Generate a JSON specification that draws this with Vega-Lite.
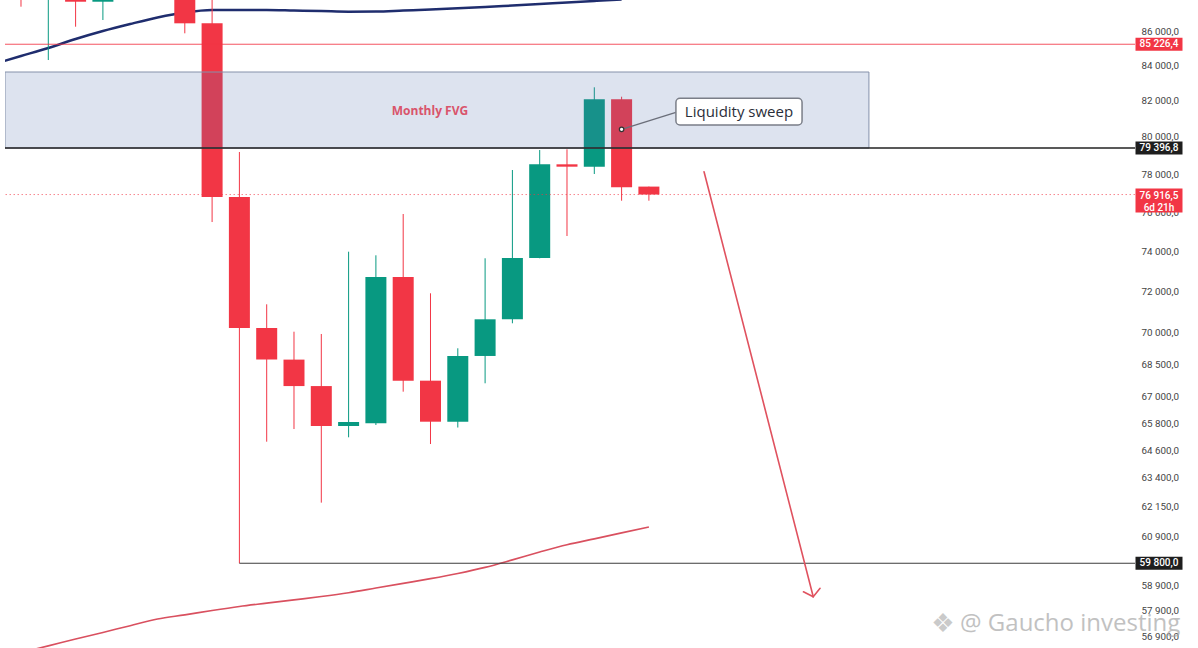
{
  "$schema": "https://vega.github.io/schema/vega-lite/v6.json",
  "width": 1130,
  "height": 648,
  "autosize": {"type": "none"},
  "padding": {"left": 5, "top": 0, "right": 63, "bottom": 0},
  "background": "white",
  "config": {"view": {"stroke": null}, "font": "Roboto"},
  "datasets": {
    "candles": [
      {"i": 0, "open": 88500, "close": 88000, "high": 89000, "low": 87439, "dir": "down"},
      {"i": 1, "open": 88000, "close": 88800, "high": 89500, "low": 84314, "dir": "up"},
      {"i": 2, "open": 88300, "close": 87737, "high": 88800, "low": 86253, "dir": "down"},
      {"i": 3, "open": 87737, "close": 88400, "high": 88900, "low": 86648, "dir": "up"},
      {"i": 6, "open": 88200, "close": 86453, "high": 88700, "low": 85865, "dir": "down"},
      {"i": 7, "open": 86453, "close": 76788, "high": 88500, "low": 75487, "dir": "down"},
      {"i": 8, "open": 76788, "close": 70220, "high": 79183, "low": 59800, "dir": "down"},
      {"i": 9, "open": 70220, "close": 68720, "high": 71364, "low": 64975, "dir": "down"},
      {"i": 10, "open": 68720, "close": 67490, "high": 70042, "low": 65540, "dir": "down"},
      {"i": 11, "open": 67490, "close": 65675, "high": 69932, "low": 62327, "dir": "down"},
      {"i": 12, "open": 65675, "close": 65854, "high": 73973, "low": 65170, "dir": "up"},
      {"i": 13, "open": 65800, "close": 72706, "high": 73791, "low": 65720, "dir": "up"},
      {"i": 14, "open": 72706, "close": 67739, "high": 75901, "low": 67232, "dir": "down"},
      {"i": 15, "open": 67739, "close": 65868, "high": 71902, "low": 64872, "dir": "down"},
      {"i": 16, "open": 65868, "close": 68891, "high": 69253, "low": 65607, "dir": "up"},
      {"i": 17, "open": 68891, "close": 70637, "high": 73641, "low": 67618, "dir": "up"},
      {"i": 18, "open": 70637, "close": 73656, "high": 78215, "low": 70445, "dir": "up"},
      {"i": 19, "open": 73656, "close": 78520, "high": 79290, "low": 73641, "dir": "up"},
      {"i": 20, "open": 78520, "close": 78393, "high": 79328, "low": 74770, "dir": "down"},
      {"i": 21, "open": 78393, "close": 82083, "high": 82758, "low": 78002, "dir": "up"},
      {"i": 22, "open": 82083, "close": 77298, "high": 82228, "low": 76593, "dir": "down"},
      {"i": 23, "open": 77335, "close": 76916.5, "high": 77335, "low": 76593, "dir": "down"}
    ],
    "maBlue": [
      {"i": -1, "v": 84085}, {"i": 0, "v": 84545}, {"i": 1, "v": 85008}, {"i": 2, "v": 85531},
      {"i": 3, "v": 86000}, {"i": 4, "v": 86412}, {"i": 5, "v": 86796}, {"i": 6, "v": 87093},
      {"i": 7, "v": 87242}, {"i": 8, "v": 87242}, {"i": 9, "v": 87242}, {"i": 10, "v": 87212},
      {"i": 11, "v": 87182}, {"i": 12, "v": 87140}, {"i": 13, "v": 87152}, {"i": 14, "v": 87212},
      {"i": 15, "v": 87271}, {"i": 16, "v": 87342}, {"i": 17, "v": 87420}, {"i": 18, "v": 87510},
      {"i": 19, "v": 87600}, {"i": 20, "v": 87690}, {"i": 21, "v": 87780}, {"i": 22, "v": 87870}
    ],
    "maRed": [
      {"i": 0, "v": 56264}, {"i": 1, "v": 56522}, {"i": 2, "v": 56785}, {"i": 3, "v": 57042},
      {"i": 4, "v": 57307}, {"i": 5, "v": 57566}, {"i": 6, "v": 57731}, {"i": 7, "v": 57905},
      {"i": 8, "v": 58064}, {"i": 9, "v": 58194}, {"i": 10, "v": 58325}, {"i": 11, "v": 58457},
      {"i": 12, "v": 58609}, {"i": 13, "v": 58797}, {"i": 14, "v": 58986}, {"i": 15, "v": 59176},
      {"i": 16, "v": 59386}, {"i": 17, "v": 59633}, {"i": 18, "v": 59939}, {"i": 19, "v": 60260},
      {"i": 20, "v": 60561}, {"i": 21, "v": 60806}, {"i": 22, "v": 61055}, {"i": 23, "v": 61302}
    ]
  },
  "layer": [
    {
      "data": {"name": "maBlue"},
      "mark": {"type": "line", "color": "#1f2d6e", "strokeWidth": 2.5, "clip": true, "interpolate": "monotone"},
      "encoding": {
        "x": {"field": "i", "type": "quantitative", "scale": {"domain": [-0.586, 40.806], "nice": false, "zero": false, "padding": 0}, "axis": null},
        "y": {"field": "v", "type": "quantitative", "title": null,
          "scale": {"type": "log", "domain": [56440, 87840], "nice": false, "zero": false, "padding": 0},
          "axis": {
            "orient": "right", "domain": false, "ticks": false, "grid": false, "title": null,
            "values": [86000, 84000, 82000, 80000, 78000, 76000, 74000, 72000, 70000, 68500, 67000, 65800, 64600, 63400, 62150, 60900, 59800, 58900, 57900, 56900],
            "labelExpr": "replace(replace(format(datum.value, ',.1f'), ',', ' '), '.', ',')",
            "labelFont": "Roboto", "labelFontSize": 9.8, "labelColor": "#444444", "labelPadding": 6,
            "labelOverlap": false, "labelBound": false, "labelFlush": false
          }
        }
      }
    },
    {
      "data": {"name": "maRed"},
      "mark": {"type": "line", "color": "#d9505f", "strokeWidth": 1.6, "clip": true, "interpolate": "monotone"},
      "encoding": {
        "x": {"field": "i", "type": "quantitative"},
        "y": {"field": "v", "type": "quantitative", "title": null}
      }
    },
    {
      "data": {"name": "candles"},
      "mark": {"type": "rule", "strokeWidth": 1, "clip": true},
      "encoding": {
        "x": {"field": "i", "type": "quantitative"},
        "y": {"field": "low", "type": "quantitative", "title": null},
        "y2": {"field": "high"},
        "color": {"field": "dir", "type": "nominal", "scale": {"domain": ["up", "down"], "range": ["#089981", "#f23645"]}, "legend": null}
      }
    },
    {
      "data": {"name": "candles"},
      "mark": {"type": "bar", "size": 21, "clip": true},
      "encoding": {
        "x": {"field": "i", "type": "quantitative"},
        "y": {"field": "open", "type": "quantitative", "title": null},
        "y2": {"field": "close"},
        "color": {"field": "dir", "type": "nominal", "legend": null}
      }
    },
    {
      "data": {"values": [{"price": 85226.4}]},
      "mark": {"type": "rule", "color": "#f23645", "strokeWidth": 1, "opacity": 0.85},
      "encoding": {"y": {"field": "price", "type": "quantitative", "title": null}}
    },
    {
      "data": {"values": [{"price": 76916.5}]},
      "mark": {"type": "rule", "color": "#f23645", "strokeWidth": 1, "strokeDash": [1.5, 2.5], "opacity": 0.6},
      "encoding": {"y": {"field": "price", "type": "quantitative", "title": null}}
    },
    {
      "data": {"values": [{"from": 8, "to": 40.806, "price": 59800}]},
      "mark": {"type": "rule", "color": "#3c3c3c", "strokeWidth": 1.1},
      "encoding": {
        "x": {"field": "from", "type": "quantitative"},
        "x2": {"field": "to"},
        "y": {"field": "price", "type": "quantitative", "title": null}
      }
    },
    {
      "data": {"values": [{"left": -0.586, "right": 31.06, "top": 83627, "bottom": 79396.8}]},
      "mark": {"type": "rect", "fill": "#5573af", "fillOpacity": 0.2, "stroke": "#8591aa", "strokeWidth": 1, "clip": true},
      "encoding": {
        "x": {"field": "left", "type": "quantitative"},
        "x2": {"field": "right"},
        "y": {"field": "top", "type": "quantitative", "title": null},
        "y2": {"field": "bottom"}
      }
    },
    {
      "data": {"values": [{"price": 79396.8}]},
      "mark": {"type": "rule", "color": "#222222", "strokeWidth": 1.6},
      "encoding": {"y": {"field": "price", "type": "quantitative", "title": null}}
    },
    {
      "data": {"values": [{"px": 14.98, "py": 81430, "label": "Monthly FVG"}]},
      "mark": {"type": "text", "color": "#d9546b", "fontSize": 12, "fontWeight": "bold", "font": "Open Sans", "align": "center", "baseline": "middle"},
      "encoding": {
        "x": {"field": "px", "type": "quantitative"},
        "y": {"field": "py", "type": "quantitative", "title": null},
        "text": {"field": "label"}
      }
    },
    {
      "data": {"values": [{"ax": 22.0, "ay": 80418, "bx": 23.99, "by": 81357}]},
      "mark": {"type": "rule", "color": "#6b6f7a", "strokeWidth": 1.4},
      "encoding": {
        "x": {"field": "ax", "type": "quantitative"},
        "x2": {"field": "bx"},
        "y": {"field": "ay", "type": "quantitative", "title": null},
        "y2": {"field": "by"}
      }
    },
    {
      "data": {"values": [{"px": 22.0, "py": 80418}]},
      "mark": {"type": "point", "filled": true, "fill": "white", "stroke": "#333333", "strokeWidth": 1.2, "size": 20, "opacity": 1},
      "encoding": {
        "x": {"field": "px", "type": "quantitative"},
        "y": {"field": "py", "type": "quantitative", "title": null}
      }
    },
    {
      "data": {"values": [{"left": 23.99, "right": 28.61, "top": 82139, "bottom": 80655}]},
      "mark": {"type": "rect", "fill": "white", "stroke": "#7a7e88", "strokeWidth": 1.5, "cornerRadius": 4},
      "encoding": {
        "x": {"field": "left", "type": "quantitative"},
        "x2": {"field": "right"},
        "y": {"field": "top", "type": "quantitative", "title": null},
        "y2": {"field": "bottom"}
      }
    },
    {
      "data": {"values": [{"px": 26.3, "py": 81373, "label": "Liquidity sweep"}]},
      "mark": {"type": "text", "color": "#2a2e39", "fontSize": 15, "font": "Open Sans", "fontWeight": 500, "align": "center", "baseline": "middle"},
      "encoding": {
        "x": {"field": "px", "type": "quantitative"},
        "y": {"field": "py", "type": "quantitative", "title": null},
        "text": {"field": "label"}
      }
    },
    {
      "data": {"values": [
        {"ax": 25.02, "ay": 78125, "bx": 29.02, "by": 58449},
        {"ax": 29.02, "ay": 58449, "bx": 28.66, "by": 58649},
        {"ax": 29.02, "ay": 58449, "bx": 29.27, "by": 58785}
      ]},
      "mark": {"type": "rule", "color": "#e0525f", "strokeWidth": 1.6, "strokeCap": "round"},
      "encoding": {
        "x": {"field": "ax", "type": "quantitative"},
        "x2": {"field": "bx"},
        "y": {"field": "ay", "type": "quantitative", "title": null},
        "y2": {"field": "by"}
      }
    },
    {
      "data": {"values": [{"px": 41.685, "price": 85226.4}]},
      "mark": {"type": "tick", "orient": "horizontal", "size": 47, "thickness": 13, "color": "#f23645", "opacity": 1, "clip": false},
      "encoding": {
        "x": {"field": "px", "type": "quantitative"},
        "y": {"field": "price", "type": "quantitative", "title": null}
      }
    },
    {
      "data": {"values": [{"px": 41.685, "price": 79396.8}, {"px": 41.685, "price": 59800}]},
      "mark": {"type": "tick", "orient": "horizontal", "size": 47, "thickness": 13, "color": "#1e1e1e", "opacity": 1, "clip": false},
      "encoding": {
        "x": {"field": "px", "type": "quantitative"},
        "y": {"field": "price", "type": "quantitative", "title": null}
      }
    },
    {
      "data": {"values": [
        {"px": 41.685, "price": 85226.4, "label": "85 226,4"},
        {"px": 41.685, "price": 79396.8, "label": "79 396,8"},
        {"px": 41.685, "price": 59800, "label": "59 800,0"}
      ]},
      "mark": {"type": "text", "color": "white", "fontSize": 10, "font": "Roboto", "fontWeight": 500, "align": "center", "baseline": "middle", "clip": false},
      "encoding": {
        "x": {"field": "px", "type": "quantitative"},
        "y": {"field": "price", "type": "quantitative", "title": null},
        "text": {"field": "label"}
      }
    },
    {
      "data": {"values": [{"px": 41.685, "price": 76916.5}]},
      "mark": {"type": "tick", "orient": "horizontal", "size": 47, "thickness": 24, "yOffset": 6, "color": "#f23645", "opacity": 1, "clip": false},
      "encoding": {
        "x": {"field": "px", "type": "quantitative"},
        "y": {"field": "price", "type": "quantitative", "title": null}
      }
    },
    {
      "data": {"values": [{"px": 41.685, "price": 76916.5, "label": "76 916,5\n6d 21h"}]},
      "mark": {"type": "text", "color": "white", "fontSize": 10, "font": "Roboto", "fontWeight": 500, "align": "center", "baseline": "top", "lineBreak": "\n", "lineHeight": 12, "yOffset": -4, "clip": false},
      "encoding": {
        "x": {"field": "px", "type": "quantitative"},
        "y": {"field": "price", "type": "quantitative", "title": null},
        "text": {"field": "label"}
      }
    },
    {
      "data": {"values": [{"px": 33.77, "py": 57370, "label": "❖"}]},
      "mark": {"type": "text", "color": "#bdbdbd", "fontSize": 26, "font": "DejaVu Sans", "align": "center", "baseline": "middle", "opacity": 0.8, "clip": false},
      "encoding": {
        "x": {"field": "px", "type": "quantitative"},
        "y": {"field": "py", "type": "quantitative", "title": null},
        "text": {"field": "label"}
      }
    },
    {
      "data": {"values": [{"px": 34.4, "py": 57370, "label": "@ Gaucho investing"}]},
      "mark": {"type": "text", "color": "#a8a8a8", "fontSize": 24, "font": "Open Sans", "align": "left", "baseline": "middle", "opacity": 0.7, "clip": false},
      "encoding": {
        "x": {"field": "px", "type": "quantitative"},
        "y": {"field": "py", "type": "quantitative", "title": null},
        "text": {"field": "label"}
      }
    }
  ]
}
